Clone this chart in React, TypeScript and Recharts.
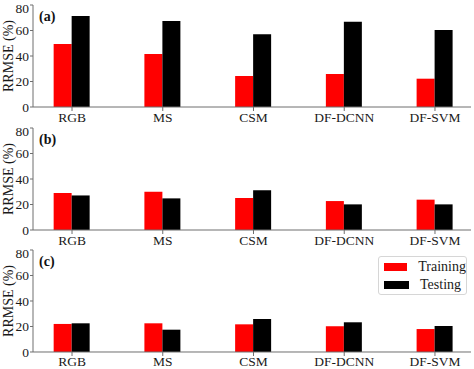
import { Bar, BarChart, XAxis, YAxis } from 'recharts';

const CATEGORIES = ['RGB', 'MS', 'CSM', 'DF-DCNN', 'DF-SVM'];
const TRAIN_A = [49.4, 41.6, 24.3, 25.9, 22.2];
const TEST_A = [71.4, 67.5, 57.0, 66.9, 60.4];
const TRAIN_B = [29.0, 30.0, 25.1, 22.7, 23.8];
const TEST_B = [27.1, 24.8, 31.1, 20.1, 20.1];
const TRAIN_C = [22.0, 22.5, 21.7, 20.2, 18.0];
const TEST_C = [22.5, 17.5, 25.9, 23.3, 20.4];
const Y_TICKS = [0, 20, 40, 60, 80];

const RED = '#ff0000';
const BLACK = '#000000';
const FRAME = '#6e6e6e';
const INK = '#1a1a1a';
const FONT = '"Liberation Serif", "DejaVu Serif", serif';

const tickStyle = { fill: INK, fontSize: 13.5, fontFamily: FONT };

function LegendBox() {
  const row = (color: string, label: string) => (
    <div style={{ display: 'flex', alignItems: 'center', height: 18 }}>
      <div style={{ width: 25, height: 8, background: color, marginRight: 11 }} />
      <span style={{ fontFamily: FONT, fontSize: 14, color: INK, lineHeight: '18px' }}>{label}</span>
    </div>
  );
  return (
    <div
      style={{
        position: 'absolute',
        left: 378,
        top: 256,
        width: 89,
        height: 39,
        boxSizing: 'border-box',
        border: '1px solid #d6d6d6',
        borderRadius: 3,
        background: '#fff',
        padding: '1px 0 0 5px',
      }}
    >
      {row(RED, 'Training')}
      {row(BLACK, 'Testing')}
    </div>
  );
}

function YLabel() {
  return (
    <text
      transform="translate(13,56) rotate(-90)"
      textAnchor="middle"
      fontFamily={FONT}
      fontSize={14}
      fill={INK}
    >
      RRMSE (%)
    </text>
  );
}

function Panel({
  tag,
  train,
  test,
  top,
  height = 126,
  labelGap = 1,
}: {
  tag: string;
  train: number[];
  test: number[];
  top: number;
  height?: number;
  labelGap?: number;
}) {
  const data = CATEGORIES.map((c, i) => ({ idx: i, name: c, train: train[i], test: test[i] }));
  // plot area is always 102px tall, starting 5px below the panel top
  const axisH = height - 107;
  return (
    <div style={{ position: 'absolute', left: 0, top, width: 474, height }}>
      <BarChart
        width={474}
        height={height}
        data={data}
        barGap={0}
        barSize={18}
        style={{ overflow: 'visible' }}
        margin={{ top: 5, right: 3, left: 0, bottom: 0 }}
      >
        <XAxis
          dataKey="idx"
          type="number"
          domain={[-0.43, 4.397]}
          allowDataOverflow
          ticks={[0, 1, 2, 3, 4]}
          tickFormatter={(v: number) => CATEGORIES[v] ?? ''}
          tick={tickStyle}
          stroke={FRAME}
          tickSize={4}
          tickMargin={labelGap}
          height={axisH}
        />
        <XAxis
          xAxisId="top"
          orientation="top"
          dataKey="idx"
          type="number"
          domain={[-0.43, 4.397]}
          tick={false}
          tickLine={false}
          stroke={FRAME}
          height={0}
        />
        <YAxis
          domain={[0, 80]}
          ticks={Y_TICKS}
          tick={tickStyle}
          stroke={FRAME}
          tickSize={3}
          tickMargin={1}
          width={33}
          label={() => <YLabel />}
        />
        <YAxis
          yAxisId="right"
          orientation="right"
          domain={[0, 80]}
          tick={false}
          tickLine={false}
          stroke={FRAME}
          width={0}
        />
        <Bar dataKey="train" name="Training" fill={RED} isAnimationActive={false} />
        <Bar dataKey="test" name="Testing" fill={BLACK} isAnimationActive={false} />
      </BarChart>
      <div
        style={{
          position: 'absolute',
          left: 39,
          top: 9,
          fontFamily: FONT,
          fontWeight: 'bold',
          fontSize: 14,
          color: '#111',
          pointerEvents: 'none',
        }}
      >
        {tag}
      </div>
    </div>
  );
}

export default function App() {
  return (
    <div
      style={{
        position: 'absolute',
        left: 0,
        top: 0,
        width: 474,
        height: 369,
        overflow: 'hidden',
        background: '#fff',
      }}
    >
      <Panel tag="(a)" train={TRAIN_A} test={TEST_A} top={0} />
      <Panel tag="(b)" train={TRAIN_B} test={TEST_B} top={123.3} />
      <Panel tag="(c)" train={TRAIN_C} test={TEST_C} top={245.4} height={123.6} labelGap={0} />
      <LegendBox />
    </div>
  );
}
